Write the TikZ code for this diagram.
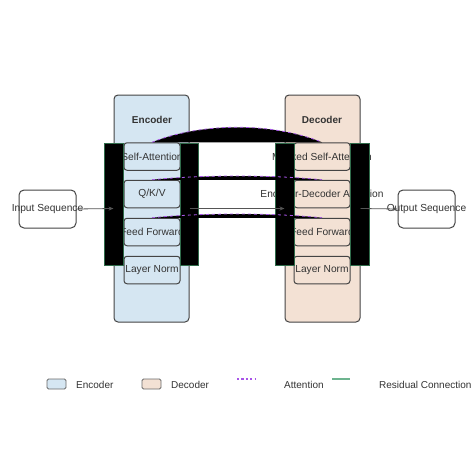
\documentclass[tikz,border=0pt]{standalone}
\usepackage{fontspec}
\setmainfont{Liberation Sans}
\usetikzlibrary{calc,arrows.meta}
\definecolor{encfill}{HTML}{D5E6F2}
\definecolor{decfill}{HTML}{F3E1D4}
\definecolor{boxline}{HTML}{444444}
\definecolor{txt}{HTML}{333333}
\definecolor{attncol}{HTML}{A855E8}
\definecolor{rescol}{HTML}{6DB48F}
\definecolor{bargreen}{HTML}{2F6B4A}
\definecolor{arrowcol}{HTML}{555555}
\tikzset{
  bigbox/.style={draw=boxline, line width=1pt, rounded corners=4pt, minimum width=75pt, minimum height=227pt, inner sep=0pt},
  subbox/.style={draw=boxline, line width=1pt, rounded corners=3pt, minimum width=56pt, minimum height=27.5pt, inner sep=0pt},
  lbl/.style={text=txt, font=\fontsize{10.2}{12}\selectfont, inner sep=0pt},
  ttl/.style={text=txt, font=\fontsize{10}{12}\selectfont\bfseries, inner sep=0pt},
  barbox/.style={fill=black, draw=bargreen, line width=0.7pt, minimum height=122pt, inner sep=0pt},
  iobox/.style={draw=boxline, line width=1pt, rounded corners=5pt, minimum width=57pt, minimum height=38pt, inner sep=0pt},
  attn/.style={draw=attncol, dashed, line width=0.8pt, fill=black},
  flow/.style={draw=arrowcol, line width=0.8pt, -{Stealth[length=5pt,width=4pt]}},
  swatch/.style={draw=boxline!80, line width=0.9pt, rounded corners=1.5pt, minimum width=19pt, minimum height=10pt, inner sep=0pt},
  legtxt/.style={text=txt, font=\fontsize{10}{12}\selectfont, inner sep=0pt, anchor=west},
}
\begin{document}
\begin{tikzpicture}[x=1pt,y=-1pt]
\useasboundingbox (0,0) rectangle (474,474);
\fill[white] (0,0) rectangle (474,474);
% main blocks
\node[bigbox, fill=encfill] (enc) at (151.5,208.5) {};
\node[bigbox, fill=decfill] (dec) at (322.5,208.5) {};
\node[ttl] (enct) at (152,120) {Encoder};
\node[ttl] (dect) at (322,120) {Decoder};
% encoder sub-blocks
\node[subbox, fill=encfill] (es1) at (152,156.5) {};
\node[subbox, fill=encfill] (es2) at (152,194) {};
\node[subbox, fill=encfill] (es3) at (152,232) {};
\node[subbox, fill=encfill] (es4) at (152,270) {};
\node[lbl] at (es1) {Self-Attention};
\node[lbl] at (es2) {Q/K/V};
\node[lbl] at (es3) {Feed Forward};
\node[lbl] at (es4) {Layer Norm};
% decoder sub-blocks
\node[subbox, fill=decfill] (ds1) at (322,156.5) {};
\node[subbox, fill=decfill] (ds2) at (322,194) {};
\node[subbox, fill=decfill] (ds3) at (322,232) {};
\node[subbox, fill=decfill] (ds4) at (322,270) {};
\node[lbl] at (ds1) {Masked Self-Attention};
\node[lbl] at (ds2) {Encoder-Decoder Attention};
\node[lbl] at (ds3) {Feed Forward};
\node[lbl] at (ds4) {Layer Norm};
% residual bars
\node[barbox, minimum width=19pt] (eb1) at (113.5,204) {};
\node[barbox, minimum width=18pt] (eb2) at (189,204) {};
\node[barbox, minimum width=19pt] (db1) at (284.5,204) {};
\node[barbox, minimum width=19pt] (db2) at (359.5,204) {};
% attention arcs
\draw[attn] (es1.north) .. controls ($(es1.north)+(50,-20)$) and ($(ds1.north)+(-50,-20)$) .. (ds1.north);
\draw[attn] (es2.north) .. controls ($(es2.north)+(50,-5)$) and ($(ds2.north)+(-50,-5)$) .. (ds2.north);
\draw[attn] (es3.north) .. controls ($(es3.north)+(50,-5)$) and ($(ds3.north)+(-50,-5)$) .. (ds3.north);
% input / output
\node[iobox] (in) at (47.5,209) {};
\node[lbl] at (in) {Input Sequence};
\node[iobox] (out) at (426.5,209) {};
\node[lbl] at (out) {Output Sequence};
\draw[flow] (in.east) -- (enc.west);
\draw[flow] (enc.east) -- (dec.west);
\draw[flow] (dec.east) -- (out.west);
% legend
\node[swatch, fill=encfill] (lg1) at (56.5,384) {};
\node[legtxt] (lg1t) at (76,385) {Encoder};
\node[swatch, fill=decfill] (lg2) at (151.5,384) {};
\node[legtxt] (lg2t) at (171,385) {Decoder};
\coordinate (la1) at (237,379);
\coordinate (la2) at (255,379);
\draw[draw=attncol, dash pattern=on 2.2pt off 2.2pt, line width=1.2pt] (la1) -- (la2);
\node[legtxt] (lg3t) at (284,385) {Attention};
\coordinate (lr1) at (332,379);
\coordinate (lr2) at (350,379);
\draw[draw=rescol, line width=1.4pt] (lr1) -- (lr2);
\node[legtxt] (lg4t) at (379,385) {Residual Connection};
\end{tikzpicture}
\end{document}
